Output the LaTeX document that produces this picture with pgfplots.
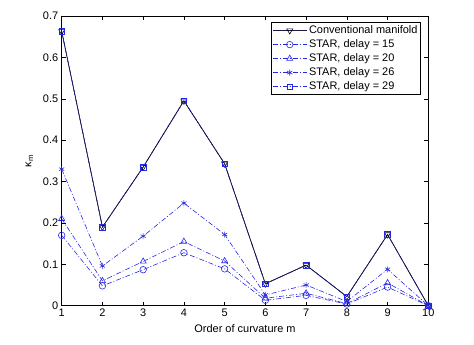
\documentclass[border=0pt]{standalone}
\usepackage{fontspec}
\setmainfont{Liberation Sans}
\usepackage{pgfplots}
\pgfplotsset{compat=1.18}
\definecolor{mblue}{rgb}{0.15,0.15,0.9}
\definecolor{mdark}{rgb}{0.1,0.1,0.25}
\begin{document}
\begin{tikzpicture}
\useasboundingbox (0,0) rectangle (474bp,345bp);
\begin{axis}[
  at={(61.7bp,39.3bp)}, anchor=south west,
  scale only axis, width=366.6bp, height=289.7bp,
  xmin=1, xmax=10, ymin=0, ymax=0.7,
  xtick={1,...,10},
  ytick={0,0.1,0.2,0.3,0.4,0.5,0.6,0.7},
  yticklabels={0,0.1,0.2,0.3,0.4,0.5,0.6,0.7},
  /pgf/number format/assume math mode=true,
  tick label style={font=\fontsize{11}{13}\selectfont},
  major tick length=4bp,
  tick style={black, line width=0.5pt},
  axis line style={line width=0.6pt},
  xlabel={Order of curvature m},
  ylabel={κ\textsubscript{m}},
  label style={font=\fontsize{11}{13}\selectfont},
  xlabel style={yshift=-1bp},
  ylabel style={yshift=3bp},
  legend style={at={(0.98,0.978)}, anchor=north east, font=\fontsize{11}{12}\selectfont,
    draw=black, line width=0.6pt, inner sep=1.2pt, row sep=0.6pt, cells={anchor=west}},
  every axis plot/.append style={legend image code/.code={\draw[mark repeat=2,mark phase=2] plot coordinates {(0bp,0bp)(17bp,0bp)(34bp,0bp)};}},
]
\addplot[mdark, line width=0.6pt, mark=triangle, every mark/.append style={rotate=180, solid, black}, mark size=3.5pt]
 coordinates {(1,0.663)(2,0.19)(3,0.335)(4,0.495)(5,0.343)(6,0.053)(7,0.098)(8,0.022)(9,0.172)(10,0)};
\addlegendentry{Conventional manifold}
\addplot[mblue, line width=0.6pt, dash pattern=on 5pt off 2pt on 1pt off 2pt, mark=o, mark options={solid}, mark size=3.3pt]
 coordinates {(1,0.17)(2,0.048)(3,0.087)(4,0.128)(5,0.089)(6,0.013)(7,0.025)(8,0.004)(9,0.045)(10,0)};
\addlegendentry{STAR, delay = 15}
\addplot[mblue, line width=0.6pt, dash pattern=on 5pt off 2pt on 1pt off 2pt, mark=triangle, mark options={solid}, mark size=3.5pt]
 coordinates {(1,0.21)(2,0.06)(3,0.107)(4,0.155)(5,0.108)(6,0.018)(7,0.03)(8,0.005)(9,0.055)(10,0)};
\addlegendentry{STAR, delay = 20}
\addplot[mblue, line width=0.6pt, dash pattern=on 5pt off 2pt on 1pt off 2pt, mark=asterisk, mark options={solid}, mark size=3pt]
 coordinates {(1,0.33)(2,0.096)(3,0.168)(4,0.248)(5,0.172)(6,0.026)(7,0.05)(8,0.01)(9,0.088)(10,0)};
\addlegendentry{STAR, delay = 26}
\addplot[mblue, line width=0.6pt, dash pattern=on 5pt off 2pt on 1pt off 2pt, mark=square, mark options={solid}, mark size=2.8pt]
 coordinates {(1,0.663)(2,0.19)(3,0.335)(4,0.495)(5,0.343)(6,0.053)(7,0.098)(8,0.022)(9,0.172)(10,0)};
\addlegendentry{STAR, delay = 29}
\addplot[mdark, line width=0.6pt, forget plot, shorten >=3.5pt, shorten <=3.5pt]
 coordinates {(1,0.663)(2,0.19)(3,0.335)(4,0.495)(5,0.343)(6,0.053)(7,0.098)(8,0.022)(9,0.172)(10,0)};
\end{axis}
\end{tikzpicture}
\end{document}
